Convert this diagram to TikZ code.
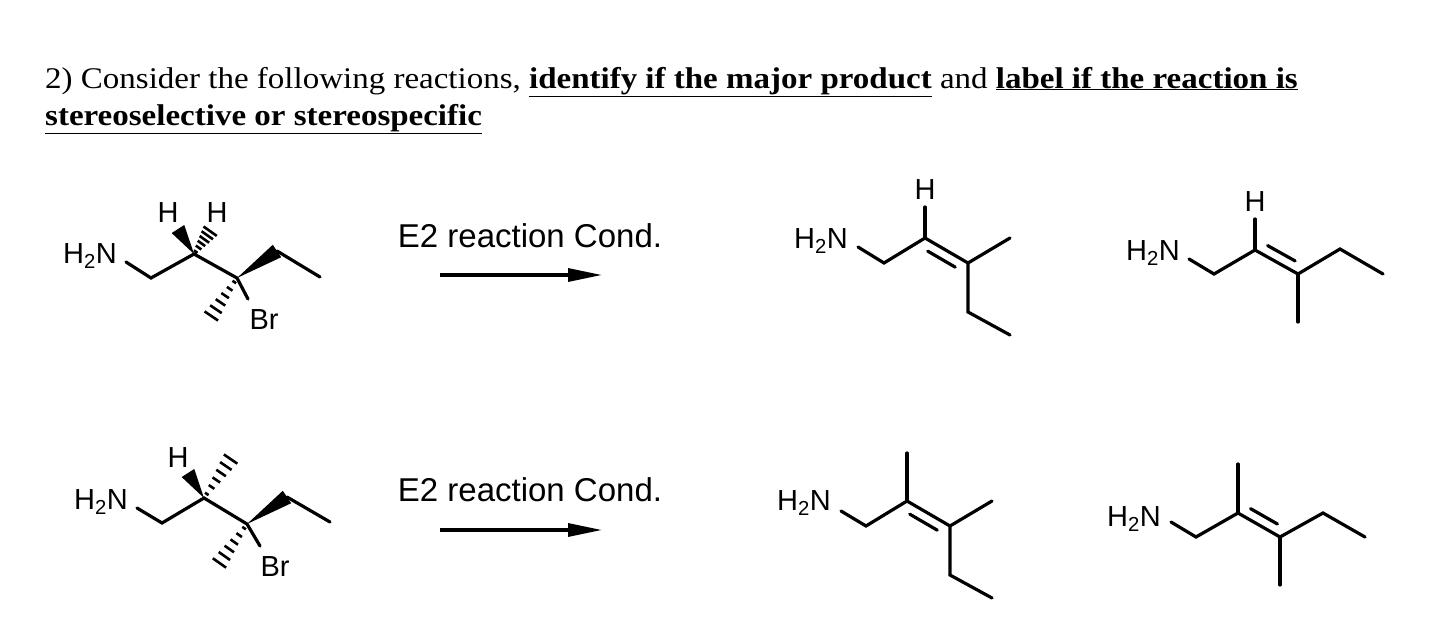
\documentclass[tikz,border=0pt]{standalone}
\usepackage{fontspec}
\setmainfont{Liberation Serif}
\newfontfamily\arial{Liberation Sans}
\usetikzlibrary{calc,arrows.meta}
\tikzset{
  bond/.style={line width=3.2pt,line cap=round},
  atom/.style={font=\arial\fontsize{29}{30}\selectfont,inner sep=0pt},
  cond/.style={font=\arial\fontsize{33}{34}\selectfont,inner sep=0pt},
  rarrow/.style={line width=3.2pt,-{Triangle[length=34pt,width=13pt]}},
  ttl/.style={anchor=base west,inner sep=0pt,font=\fontsize{30}{32}\selectfont},
}
\newcommand{\wedgeb}[2]{\fill ($(#1)$) -- ($(#2)!7.5pt!90:(#1)$) -- ($(#2)!7.5pt!-90:(#1)$) -- cycle;}
\newcommand{\hashb}[2]{\foreach \t [evaluate=\t as \w using 1.5+\t*7] in {0.1,0.27,...,1.0}
  {\draw[line width=2.6pt] ($(#1)!\t!(#2)!\w pt!90:(#2)$) -- ($(#1)!\t!(#2)!\w pt!-90:(#2)$);}}
\newcommand{\dbl}[3]{\draw[bond] ($(#1)!0.18!(#2)!10pt!#3:(#2)$) -- ($(#1)!0.82!(#2)!10pt!#3:(#2)$);}
\begin{document}
\begin{tikzpicture}[x=1pt,y=-1pt]
\useasboundingbox (0,0) rectangle (1438,616);
% title
\node[ttl] (t1) at (45,88)
 {\scalebox{1.1}[1]{2) Consider the following reactions, \underline{\textbf{identify if the major product}} and \underline{\textbf{label if the reaction is}}}};
\node[ttl] (t2) at (45,125)
 {\scalebox{1.1}[1]{\underline{\textbf{stereoselective or stereospecific}}}};
% ---- reactant 1
\node[atom] (n1) at (90,256) {H\textsubscript{2}N};
\coordinate (a0) at (126,262); \coordinate (a1) at (151,278); \coordinate (a2) at (194,254);
\coordinate (a3) at (237,278); \coordinate (a4) at (277,251); \coordinate (a5) at (320,277);
\coordinate (ah1) at (178,229); \coordinate (ah2) at (211,230); \coordinate (abr) at (248,299);
\coordinate (ame) at (210,318);
\node[atom] (h1a) at (168,213) {H}; \node[atom] (h1b) at (217,213) {H};
\node[atom] (br1) at (264,320) {Br};
\draw[bond] (a0)--(a1)--(a2)--(a3)--(abr); \draw[bond] (a4)--(a5);
\wedgeb{a2}{ah1} \hashb{a2}{ah2} \wedgeb{a3}{a4} \hashb{a3}{ame}
% ---- reactant 2
\node[atom] (n2) at (101,502) {H\textsubscript{2}N};
\coordinate (b0) at (137,508); \coordinate (b1) at (162,523); \coordinate (b2) at (204,498);
\coordinate (b3) at (247,524); \coordinate (b4) at (287,497); \coordinate (b5) at (330,522);
\coordinate (bh1) at (188,473); \coordinate (bme1) at (232,457); \coordinate (bbr) at (260,546);
\coordinate (bme2) at (218,565);
\node[atom] (h2a) at (178,458) {H}; \node[atom] (br2) at (275,567) {Br};
\draw[bond] (b0)--(b1)--(b2)--(b3)--(bbr); \draw[bond] (b4)--(b5);
\wedgeb{b2}{bh1} \hashb{b2}{bme1} \wedgeb{b3}{b4} \hashb{b3}{bme2}
% ---- arrows
\node[cond] (c1) at (530,236) {E2 reaction Cond.};
\coordinate (r1s) at (440,275); \coordinate (r1e) at (602,275);
\draw[rarrow] (r1s) -- (r1e);
\node[cond] (c2) at (530,490) {E2 reaction Cond.};
\coordinate (r2s) at (440,530); \coordinate (r2e) at (602,530);
\draw[rarrow] (r2s) -- (r2e);
% ---- product 1
\node[atom] (n3) at (821,241) {H\textsubscript{2}N};
\coordinate (p0) at (858,247); \coordinate (p1) at (884,263); \coordinate (p2) at (925,238);
\coordinate (p3) at (968,263); \coordinate (pm) at (1010,238); \coordinate (p4) at (968,312);
\coordinate (p5) at (1010,335); \coordinate (ph) at (925,207);
\node[atom] (h3) at (925,190) {H};
\draw[bond] (p0)--(p1)--(p2)--(p3)--(pm); \draw[bond] (p3)--(p4)--(p5); \draw[bond] (p2)--(ph);
\dbl{p2}{p3}{-90}
% ---- product 2
\node[atom] (n4) at (1153,253) {H\textsubscript{2}N};
\coordinate (q0) at (1189,259); \coordinate (q1) at (1214,274); \coordinate (q2) at (1255,250);
\coordinate (q3) at (1298,274); \coordinate (q4) at (1340,249); \coordinate (q5) at (1383,274);
\coordinate (qm) at (1298,322); \coordinate (qh) at (1255,219);
\node[atom] (h4) at (1255,202) {H};
\draw[bond] (q0)--(q1)--(q2)--(q3)--(q4)--(q5); \draw[bond] (q3)--(qm); \draw[bond] (q2)--(qh);
\dbl{q2}{q3}{90}
% ---- product 3
\node[atom] (n5) at (804,503) {H\textsubscript{2}N};
\coordinate (s0) at (841,511); \coordinate (s1) at (866,526); \coordinate (s2) at (907,501);
\coordinate (s3) at (950,526); \coordinate (sm2) at (992,501); \coordinate (s4) at (950,575);
\coordinate (s5) at (992,598); \coordinate (sm1) at (907,453);
\draw[bond] (s0)--(s1)--(s2)--(s3)--(sm2); \draw[bond] (s3)--(s4)--(s5); \draw[bond] (s2)--(sm1);
\dbl{s2}{s3}{-90}
% ---- product 4
\node[atom] (n6) at (1134,519) {H\textsubscript{2}N};
\coordinate (u0) at (1171,522); \coordinate (u1) at (1196,537); \coordinate (u2) at (1238,513);
\coordinate (u3) at (1280,537); \coordinate (u4) at (1323,513); \coordinate (u5) at (1365,537);
\coordinate (um1) at (1238,464); \coordinate (um2) at (1280,585);
\draw[bond] (u0)--(u1)--(u2)--(u3)--(u4)--(u5); \draw[bond] (u2)--(um1); \draw[bond] (u3)--(um2);
\dbl{u2}{u3}{90}
\end{tikzpicture}
\end{document}
